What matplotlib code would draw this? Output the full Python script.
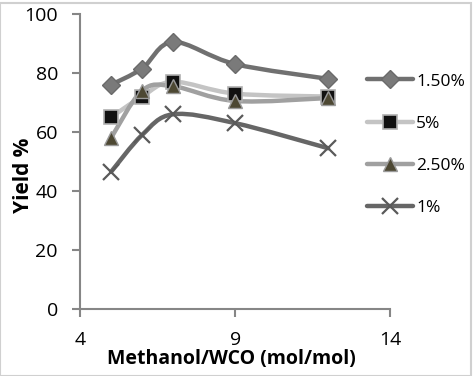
import numpy as np
import matplotlib
matplotlib.use('Agg')
from matplotlib import pyplot as plt
from matplotlib.path import Path
from matplotlib.patches import PathPatch, Rectangle
from matplotlib.lines import Line2D

plt.rcParams['font.family'] = ['Open Sans', 'DejaVu Sans']

# data
ratio = [5, 6, 7, 9, 12]
yield_150 = [76, 81.5, 90.5, 83, 78]
yield_5 = [65, 72, 77, 73, 72]
yield_250 = [58, 74, 75.5, 70.5, 71.5]
yield_1 = [46.5, 59, 66, 63, 54.5]
labels = ['1.50%', '5%', '2.50%', '1%']


def smooth_path(xs, ys):
    # excel-like smoothed line: cubic bezier through each point
    pts = np.column_stack([xs, ys]).astype(float)
    n = len(pts)
    verts = [pts[0]]
    codes = [Path.MOVETO]
    for i in range(n - 1):
        p0 = pts[max(i - 1, 0)]
        p1 = pts[i]
        p2 = pts[i + 1]
        p3 = pts[min(i + 2, n - 1)]
        c1 = p1 + (p2 - p0) / 6.0
        c2 = p2 - (p3 - p1) / 6.0
        verts += [c1, c2, p2]
        codes += [Path.CURVE4] * 3
    return Path(verts, codes)


fig = plt.figure(figsize=(4.74, 3.76), dpi=100)
ax = fig.add_axes([0.169, 0.178, 0.654, 0.785])

styles = [
    (yield_150, dict(line='#707070', marker='D', ms=9, mfc='#7a7a7a', mec='#6a6a6a', mew=1)),
    (yield_5, dict(line='#c4c4c4', marker='s', ms=10, mfc='#111111', mec='#b0b0b0', mew=1.2)),
    (yield_250, dict(line='#a0a0a0', marker='^', ms=10, mfc='#4d4833', mec='#9a9a9a', mew=1)),
    (yield_1, dict(line='#666666', marker='x', ms=11, mfc='none', mec='#5a5a5a', mew=1.6)),
]

handles = []
for (vals, st), lab in zip(styles, labels):
    ax.add_patch(PathPatch(smooth_path(ratio, vals), fill=False, edgecolor=st['line'],
                           lw=3.2, capstyle='round', joinstyle='round', zorder=2))
    ax.plot(ratio, vals, linestyle='none', marker=st['marker'], ms=st['ms'],
            mfc=st['mfc'], mec=st['mec'], mew=st['mew'], zorder=3)
    handles.append(Line2D([], [], color=st['line'], lw=3.2, marker=st['marker'], ms=st['ms'],
                          mfc=st['mfc'], mec=st['mec'], mew=st['mew'], solid_capstyle='round'))

ax.set_xlim(4, 14)
ax.set_ylim(0, 100)
ax.set_xticks([4, 9, 14])
ax.set_yticks(range(0, 101, 20))

for s in ['top', 'right']:
    ax.spines[s].set_visible(False)
for s in ['left', 'bottom']:
    ax.spines[s].set_color('#868686')
    ax.spines[s].set_linewidth(1.5)
ax.tick_params(axis='both', colors='#868686', width=1.5, length=6, labelcolor='black', labelsize=14)
ax.tick_params(axis='x', pad=10)
ax.tick_params(axis='y', pad=10)

# axis titles placed on the figure, as in the original
fig.text(0.488, 0.045, 'Methanol/WCO (mol/mol)', fontsize=14, fontweight='bold',
         ha='center', va='center')
fig.text(0.05, 0.535, 'Yield %', fontsize=15, fontweight='bold', rotation=90,
         ha='center', va='center')

fig.legend(handles, labels, loc='center left', bbox_to_anchor=(0.755, 0.615),
           frameon=False, fontsize=12.5, handlelength=2.7, handletextpad=0.15,
           labelspacing=1.5, borderpad=0)

fig.patches.append(Rectangle((0, 0), 0.994, 0.993, transform=fig.transFigure, fill=False,
                             edgecolor='#d0d0d0', lw=1.5))

fig.savefig('out.png', dpi=100)
